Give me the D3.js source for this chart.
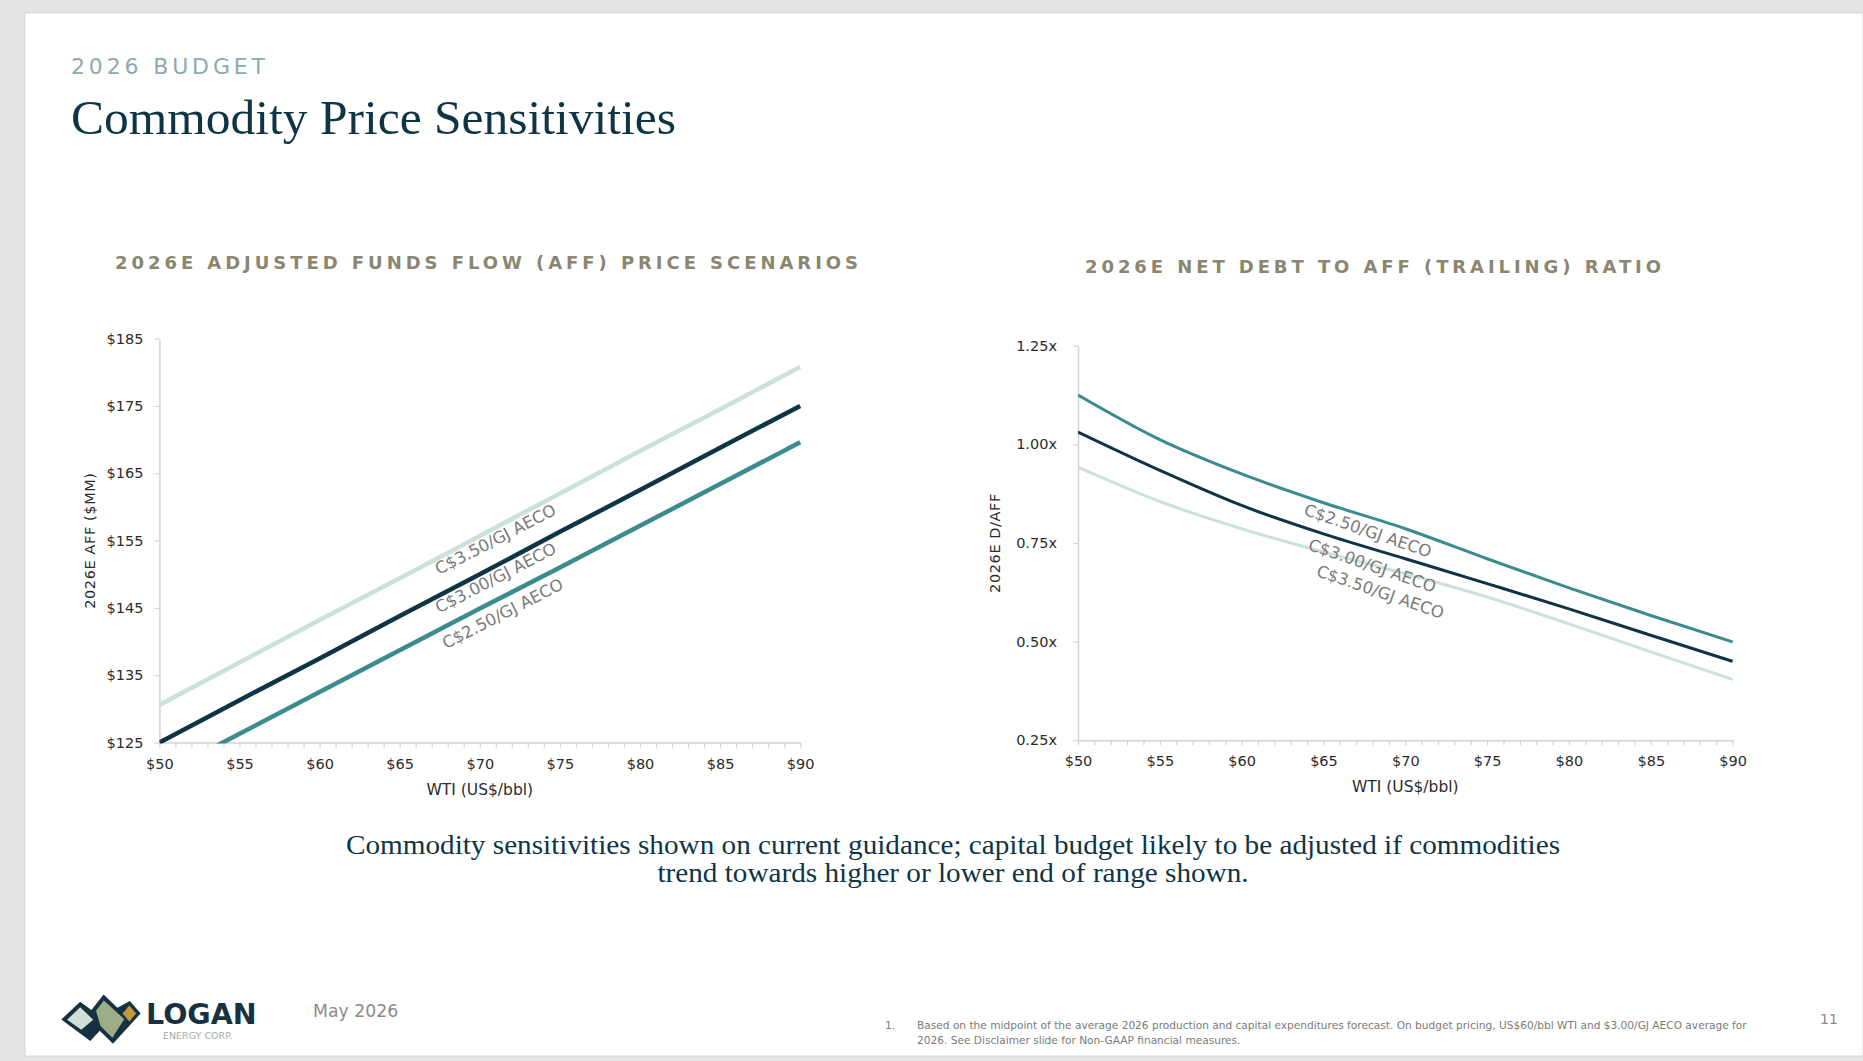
<!DOCTYPE html>
<html>
<head>
<meta charset="utf-8">
<script src="https://cdn.jsdelivr.net/npm/d3@7"></script>
<style>
  html, body { margin: 0; padding: 0; background: #e4e4e4; }
  svg { display: block; }
</style>
</head>
<body>
<script>
// ---- data ----
const wti = [50, 55, 60, 65, 70, 75, 80, 85, 90];
const scenarios = ["C$2.50/GJ AECO", "C$3.00/GJ AECO", "C$3.50/GJ AECO"];

// 2026E AFF ($MM)
const aff250 = [120.1, 126.3, 132.5, 138.7, 144.9, 151.0, 157.2, 163.4, 169.6];
const aff300 = [125.0, 131.3, 137.5, 143.8, 150.0, 156.3, 162.5, 168.8, 175.0];
const aff350 = [130.6, 136.9, 143.2, 149.4, 155.7, 162.0, 168.3, 174.5, 180.8];

// 2026E net debt / AFF (x)
const ratio250 = [1.125, 1.012, 0.925, 0.852, 0.786, 0.710, 0.636, 0.566, 0.499];
const ratio300 = [1.031, 0.934, 0.845, 0.773, 0.710, 0.647, 0.583, 0.516, 0.450];
const ratio350 = [0.942, 0.855, 0.786, 0.727, 0.672, 0.613, 0.545, 0.474, 0.404];

const affTicks = [125, 135, 145, 155, 165, 175, 185];
const ratioTicks = [0.25, 0.50, 0.75, 1.00, 1.25];
const wtiTicks = [50, 55, 60, 65, 70, 75, 80, 85, 90];

const seriesColors = ["#3b8b8f", "#0f3445", "#cbe2da"];
const sans = "'DejaVu Sans', sans-serif";
const serif = "'Liberation Serif', 'Times New Roman', serif";

const W = 1863, H = 1061;
const svg = d3.select("body").append("svg")
    .attr("width", W)
    .attr("height", H);

// slide background
svg.append("rect").attr("width", W).attr("height", H).attr("fill", "#e4e4e4");
svg.append("rect")
    .attr("x", 25).attr("y", 13)
    .attr("width", W - 25).attr("height", 1043)
    .attr("fill", "#ffffff")
    .attr("stroke", "#d6d6d6");

// header
svg.append("text")
    .attr("x", 71).attr("y", 74)
    .attr("font-family", sans).attr("font-size", 22)
    .attr("fill", "#8ea9af")
    .attr("textLength", 194).attr("lengthAdjust", "spacing")
    .text("2026 BUDGET");

svg.append("text")
    .attr("x", 71).attr("y", 134)
    .attr("font-family", serif).attr("font-size", 49.5)
    .attr("fill", "#0e3446")
    .text("Commodity Price Sensitivities");

// one line chart
function drawChart(opt) {
  let g = svg.append("g");

  let x = d3.scaleLinear().domain([50, 90]).range(opt.xRange);
  let y = d3.scaleLinear().domain(opt.yDomain).range(opt.yRange);

  // chart title
  g.append("text")
      .attr("x", opt.title.x).attr("y", opt.title.y)
      .attr("font-family", sans).attr("font-size", 18).attr("font-weight", "bold")
      .attr("fill", "#8b8670")
      .attr("textLength", opt.title.len).attr("lengthAdjust", "spacing")
      .text(opt.title.text);

  // y axis
  let yAxis = g.append("g")
      .attr("transform", "translate(" + opt.xRange[0] + ",0)")
      .call(d3.axisLeft(y).tickValues(opt.yTicks).tickFormat(opt.yFormat)
          .tickSize(5).tickSizeOuter(0).tickPadding(opt.yPad));

  // x axis, $1 ticks with labels every $5
  let xAxis = g.append("g")
      .attr("transform", "translate(0," + opt.yRange[0] + ")")
      .call(d3.axisBottom(x).tickValues(d3.range(50, 91, 1))
          .tickFormat(d => wtiTicks.includes(d) ? "$" + d : "")
          .tickSize(5).tickSizeOuter(0).tickPadding(11));

  [xAxis, yAxis].forEach(a => {
    a.select(".domain").attr("stroke", "#d3d3d3").attr("stroke-width", 1.5);
    a.selectAll(".tick line").attr("stroke", "#d3d3d3").attr("stroke-width", 1.2);
    a.selectAll(".tick text")
        .attr("font-family", sans).attr("font-size", 14.5).attr("fill", "#2b2b2b");
  });

  // axis titles
  g.append("text")
      .attr("transform", "translate(" + opt.yTitleX + "," + ((opt.yRange[0] + opt.yRange[1]) / 2) + ") rotate(-90)")
      .attr("text-anchor", "middle")
      .attr("font-family", sans).attr("font-size", 14.5).attr("letter-spacing", 0.6)
      .attr("fill", "#2b2b2b")
      .text(opt.yTitle);

  g.append("text")
      .attr("x", (opt.xRange[0] + opt.xRange[1]) / 2).attr("y", opt.yRange[0] + 52)
      .attr("text-anchor", "middle")
      .attr("font-family", sans).attr("font-size", 15.5)
      .attr("fill", "#2b2b2b")
      .text("WTI (US$/bbl)");

  // clip lines to the plot area
  g.append("clipPath").attr("id", opt.id + "-clip")
    .append("rect")
      .attr("x", opt.xRange[0]).attr("y", opt.yRange[1] - 10)
      .attr("width", opt.xRange[1] - opt.xRange[0] + 10)
      .attr("height", opt.yRange[0] - opt.yRange[1] + 11);

  let line = d3.line()
      .curve(opt.curve)
      .x((d, i) => x(wti[i]))
      .y(d => y(d));

  g.append("g").attr("clip-path", "url(#" + opt.id + "-clip)")
    .selectAll("path")
    .data(opt.series)
    .join("path")
      .attr("d", d => line(d))
      .attr("fill", "none")
      .attr("stroke", (d, i) => seriesColors[i])
      .attr("stroke-width", opt.lineWidth);

  // in-line labels, parallel to the lines
  let ref = opt.series[0];
  let v = d3.scaleLinear().domain(wti);
  let angle = Math.atan2(y(v.range(ref)(75)) - y(v.range(ref)(65)), x(75) - x(65)) * 180 / Math.PI;

  opt.labels.forEach((lab, i) => {
    let val = d3.scaleLinear().domain(wti).range(opt.series[i])(lab.at);
    g.append("text")
        .attr("transform", "translate(" + x(lab.at) + "," + y(val) + ") rotate(" + angle + ")")
        .attr("y", lab.off)
        .attr("font-family", sans).attr("font-size", 16.5)
        .attr("fill", "#7a7a7a")
        .text(scenarios[i]);
  });
}

drawChart({
  id: "aff",
  title: {text: "2026E ADJUSTED FUNDS FLOW (AFF) PRICE SCENARIOS", x: 115, y: 269, len: 743},
  xRange: [159.4, 800.2],
  yDomain: [125, 185],
  yRange: [742.6, 338.6],
  yTicks: affTicks,
  yFormat: d => "$" + d,
  yPad: 11,
  yTitle: "2026E AFF ($MM)",
  yTitleX: 95,
  series: [aff250, aff300, aff350],
  curve: d3.curveLinear,
  lineWidth: 4.5,
  labels: [{at: 67.3, off: 20.5}, {at: 67.0, off: 16}, {at: 67.0, off: 15.5}]
});

drawChart({
  id: "ratio",
  title: {text: "2026E NET DEBT TO AFF (TRAILING) RATIO", x: 1085, y: 273, len: 576},
  xRange: [1078, 1732.6],
  yDomain: [0.25, 1.25],
  yRange: [740.2, 345.7],
  yTicks: ratioTicks,
  yFormat: d => d3.format(".2f")(d) + "x",
  yPad: 16,
  yTitle: "2026E D/AFF",
  yTitleX: 1000,
  series: [ratio250, ratio300, ratio350],
  curve: d3.curveMonotoneX,
  lineWidth: 3,
  labels: [{at: 64.1, off: 18}, {at: 64.4, off: 20}, {at: 65.0, off: 25}]
});

// caption: a slightly wide serif, so the natural text is stretched horizontally
const caption = [
  "Commodity sensitivities shown on current guidance; capital budget likely to be adjusted if commodities",
  "trend towards higher or lower end of range shown."
];
let cap = svg.append("g");
let capText = cap.selectAll("text")
  .data(caption)
  .join("text")
    .attr("x", 0)
    .attr("y", (d, i) => 854 + i * 27.6)
    .attr("text-anchor", "middle")
    .attr("font-family", serif).attr("font-size", 26.5)
    .attr("fill", "#0e3446")
    .text(d => d);
let capWidth = capText.node().getComputedTextLength();
cap.attr("transform", "translate(953,0) scale(" + (1215 / capWidth) + ",1)");

// footer: logo
let logo = svg.append("g");
let mark = logo.append("g").attr("transform", "translate(100.5,1018) scale(1.13) translate(-99,-1018)");
mark.append("polygon")
    .attr("points", "64.3,1019.3 81,1003.7 91,1011 101.7,997.3 114,1009 125,1003 134.5,1014 110,1040.7 98.3,1029.3 90,1038.3")
    .attr("fill", "#163240");
mark.append("polygon")
    .attr("points", "69.5,1019.5 81,1008.5 92.5,1019.5 82,1028.5")
    .attr("fill", "#cfe0d4");
mark.append("polygon")
    .attr("points", "95,1011.5 102,1002.5 120,1019 109.5,1035.5 99,1025")
    .attr("fill", "#9cad88");
mark.append("polygon")
    .attr("points", "124.5,1007 130.5,1014 124.5,1021 118.5,1014")
    .attr("fill", "#c3993c");

logo.append("text")
    .attr("x", 146).attr("y", 1023.5)
    .attr("font-family", sans).attr("font-size", 28.5).attr("font-weight", "bold")
    .attr("fill", "#163240")
    .text("LOGAN");
logo.append("text")
    .attr("x", 163).attr("y", 1038.5)
    .attr("font-family", sans).attr("font-size", 9.5)
    .attr("fill", "#a8a8a8")
    .text("ENERGY CORP.");

svg.append("text")
    .attr("x", 313).attr("y", 1017)
    .attr("font-family", sans).attr("font-size", 17.3)
    .attr("fill", "#8a8a8a")
    .text("May 2026");

// footnote and page number
const footnote = [
  "Based on the midpoint of the average 2026 production and capital expenditures forecast. On budget pricing, US$60/bbl WTI and $3.00/GJ AECO average for",
  "2026. See Disclaimer slide for Non-GAAP financial measures."
];
svg.append("text")
    .attr("x", 885).attr("y", 1029)
    .attr("font-family", sans).attr("font-size", 10.6)
    .attr("fill", "#7a7a7a")
    .text("1.");
svg.append("g").selectAll("text")
  .data(footnote)
  .join("text")
    .attr("x", 917)
    .attr("y", (d, i) => 1029 + i * 15)
    .attr("font-family", sans).attr("font-size", 10.6)
    .attr("fill", "#7a7a7a")
    .text(d => d);

svg.append("text")
    .attr("x", 1829).attr("y", 1024)
    .attr("text-anchor", "middle")
    .attr("font-family", sans).attr("font-size", 14)
    .attr("fill", "#8a8a8a")
    .text("11");
</script>
</body>
</html>
